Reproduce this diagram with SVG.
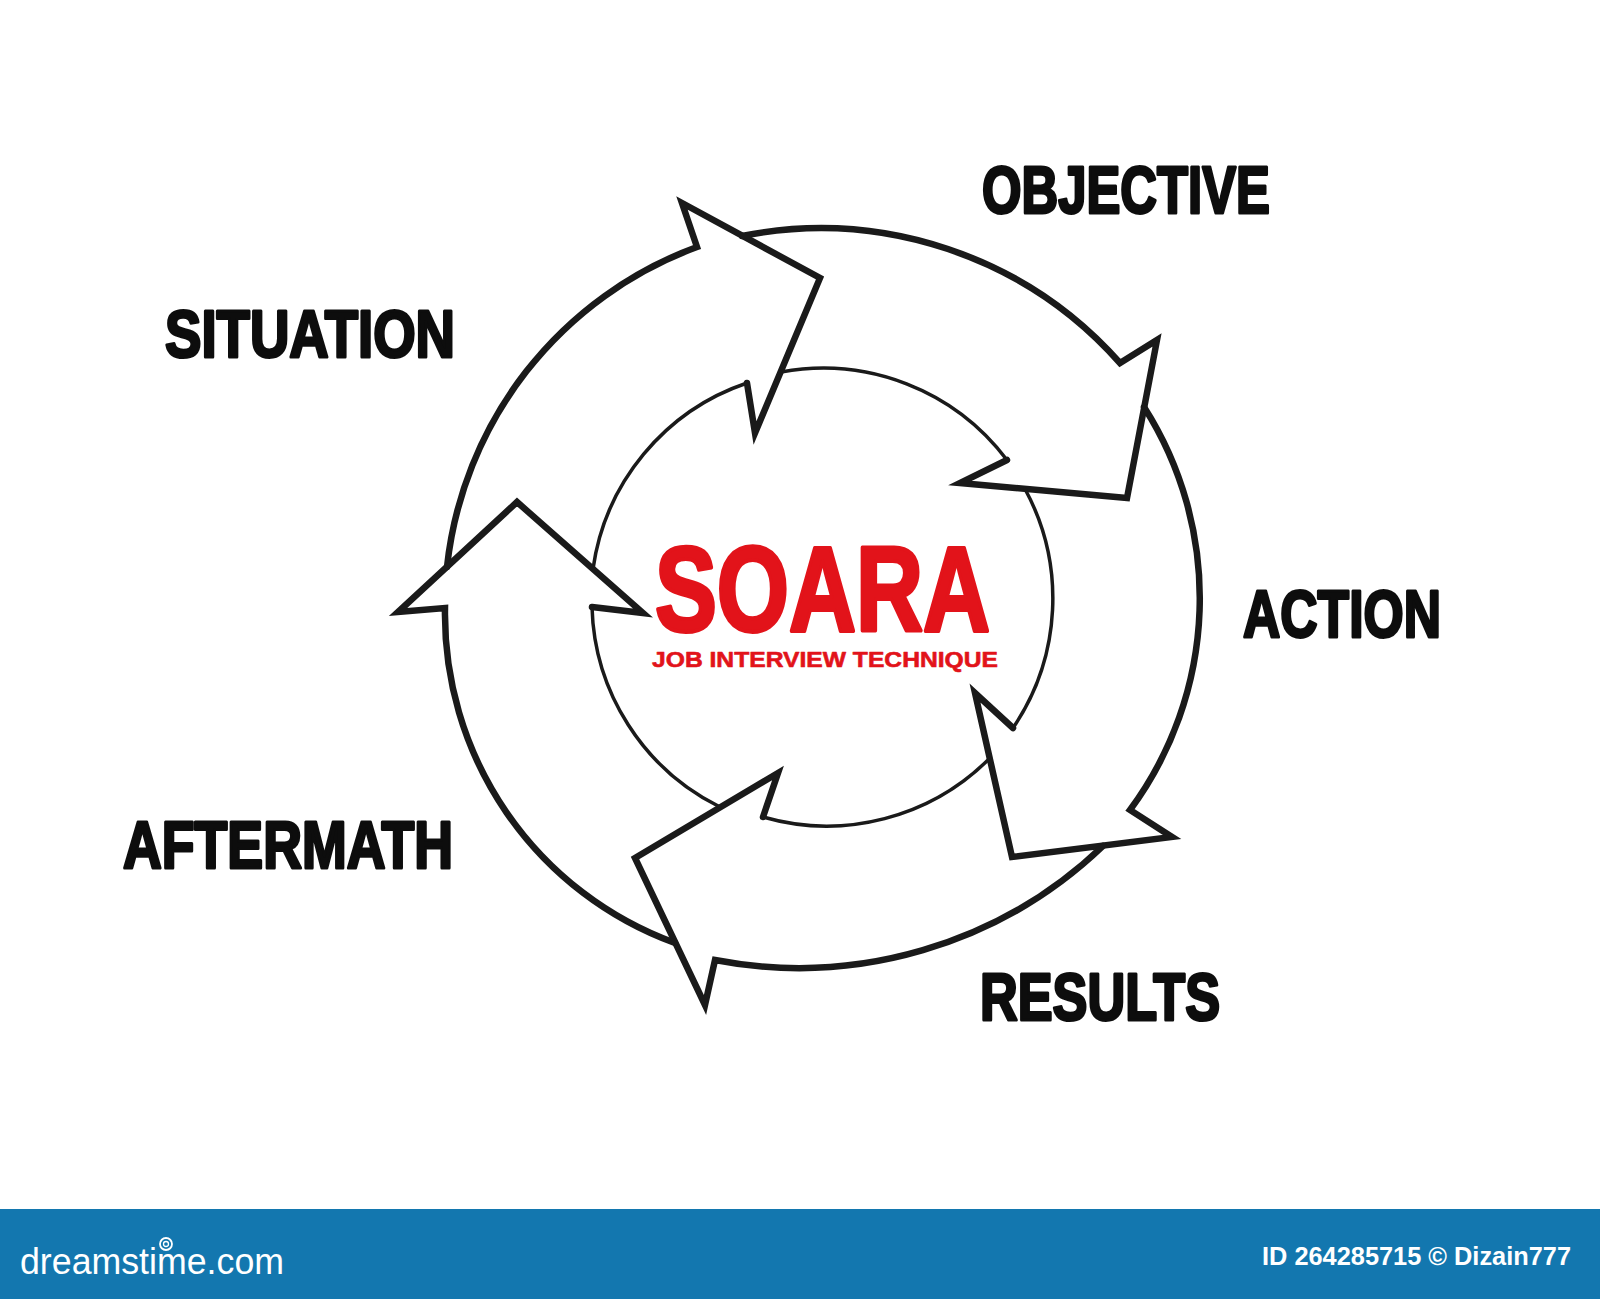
<svg xmlns="http://www.w3.org/2000/svg" width="1600" height="1299" viewBox="0 0 1600 1299">
<style>
.edge{fill:none;stroke:#1a1a1a;stroke-width:6.5;stroke-linejoin:miter;stroke-miterlimit:10;stroke-linecap:round}
.inner{fill:none;stroke:#1a1a1a;stroke-width:3.5;stroke-linecap:round}
.lbl{font-family:"Liberation Sans",Arial,sans-serif;font-weight:700;font-size:66px;fill:#0d0d0d;stroke:#0d0d0d;stroke-width:3;stroke-linejoin:round}
.title{font-family:"Liberation Sans",Arial,sans-serif;font-weight:700;fill:#e2131a;stroke:#e2131a;stroke-linejoin:round}
.foot{font-family:"Liberation Sans",Arial,sans-serif;fill:#ffffff}
</style>
<rect x="0" y="0" width="1600" height="1299" fill="#ffffff"/>
<g id="connectors">
  <g id="arrow-situation-objective">
    <path class="edge" d="M447,567 A385,385 0 0 1 697,247 L682,203 L820,278 L755,433 L747,383"/>
    <path class="inner" d="M747,383 A230,230 0 0 0 593,569"/>
  </g>
  <g id="arrow-objective-action">
    <path class="edge" d="M742,236 A400,400 0 0 1 1120,363 L1157,340 L1127,498 L960,483 L1007,460"/>
    <path class="inner" d="M1007,460 A230,230 0 0 0 781,372"/>
  </g>
  <g id="arrow-action-results">
    <path class="edge" d="M1144,407 A356,356 0 0 1 1130,810 L1172,837 L1012,857 L975,693 L1013,728"/>
    <path class="inner" d="M1013,728 A230,230 0 0 0 1025,489"/>
  </g>
  <g id="arrow-results-aftermath">
    <path class="edge" d="M1103,846 A440,440 0 0 1 715,960 L705,1005 L635,858 L778,773 L763,817"/>
    <path class="inner" d="M763,817 A230,230 0 0 0 990,758"/>
  </g>
  <g id="arrow-aftermath-situation">
    <path class="edge" d="M675,943 A350,350 0 0 1 445,608 L398,612 L517,502 L643,613 L592,607"/>
    <path class="inner" d="M592,607 A230,230 0 0 0 720,807"/>
  </g>
</g>
<g id="node-situation"><text class="lbl" x="165" y="357" textLength="290" lengthAdjust="spacingAndGlyphs">SITUATION</text></g>
<g id="node-objective"><text class="lbl" x="982" y="213" textLength="288" lengthAdjust="spacingAndGlyphs">OBJECTIVE</text></g>
<g id="node-action"><text class="lbl" x="1243" y="637" textLength="198" lengthAdjust="spacingAndGlyphs">ACTION</text></g>
<g id="node-results"><text class="lbl" x="980" y="1020" textLength="240" lengthAdjust="spacingAndGlyphs">RESULTS</text></g>
<g id="node-aftermath"><text class="lbl" x="123" y="868" textLength="330" lengthAdjust="spacingAndGlyphs">AFTERMATH</text></g>
<g id="node-center">
  <text class="title" x="655" y="631" font-size="120" stroke-width="4" textLength="335" lengthAdjust="spacingAndGlyphs">SOARA</text>
  <text class="title" x="652" y="667" font-size="22" stroke-width="0.6" textLength="346" lengthAdjust="spacingAndGlyphs">JOB INTERVIEW TECHNIQUE</text>
</g>
<g id="footer">
  <rect x="0" y="1209" width="1600" height="90" fill="#1377af"/>
  <text class="foot" x="20" y="1274" font-size="36" textLength="264" lengthAdjust="spacingAndGlyphs">dreamstime.com</text>
  <circle cx="166" cy="1244" r="6" fill="none" stroke="#ffffff" stroke-width="1.8"/>
  <circle cx="166" cy="1244" r="2.5" fill="none" stroke="#ffffff" stroke-width="1.3"/>
  <text class="foot" x="1262" y="1265" font-size="26" font-weight="700" textLength="309" lengthAdjust="spacingAndGlyphs">ID 264285715 © Dizain777</text>
</g>
</svg>
